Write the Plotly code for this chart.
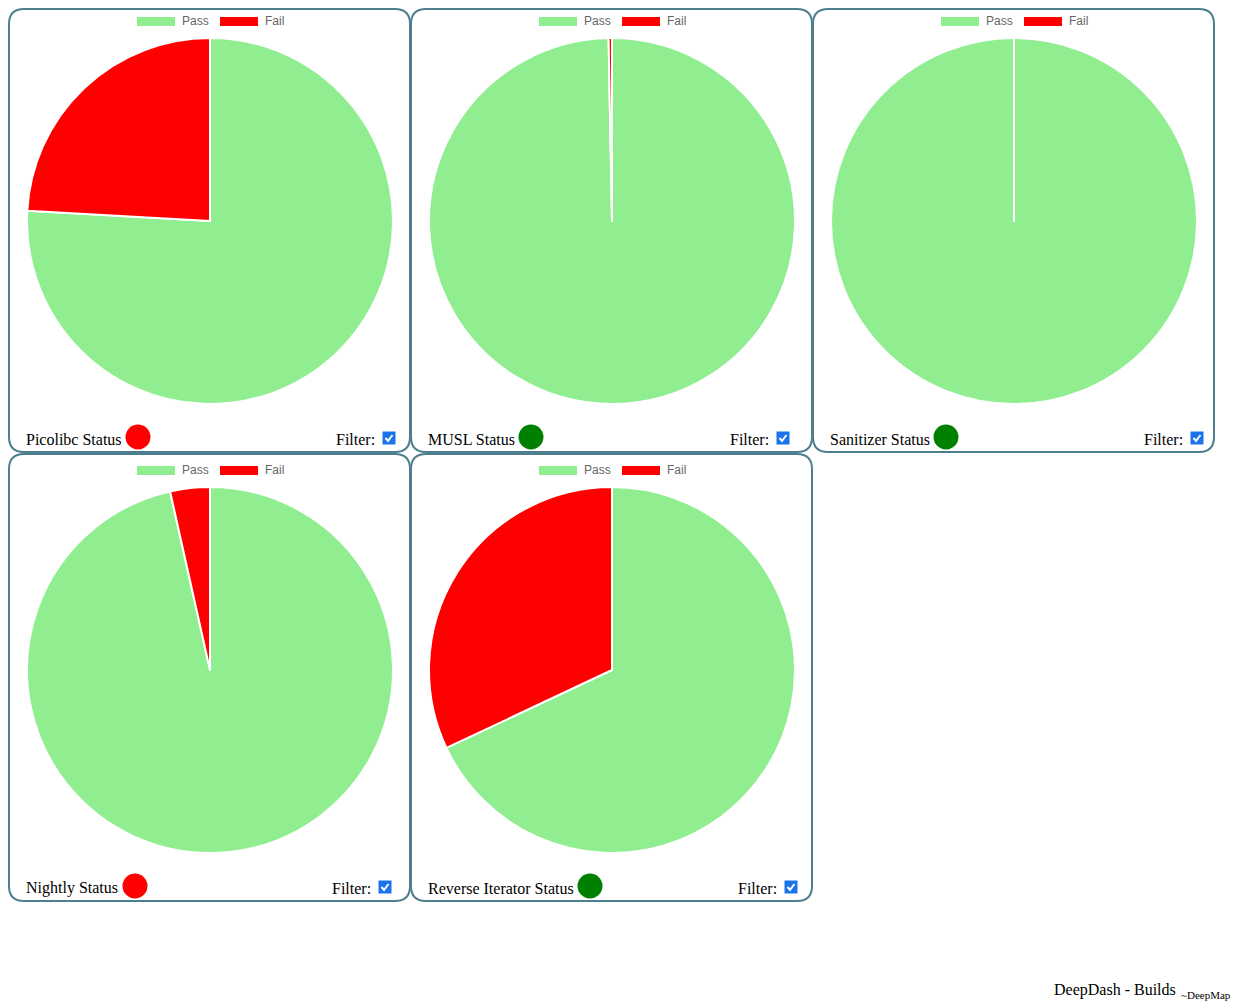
import plotly.graph_objects as go

W, H = 1232, 997
names = ["Picolibc Status", "MUSL Status", "Sanitizer Status", "Nightly Status", "Reverse Iterator Status"]
pass_vals = [75.9, 99.7, 100, 96.5, 68]
fail_vals = [24.1, 0.3, 0, 3.5, 32]
status = ["red", "green", "green", "red", "green"]
labels = ["Pass", "Fail"]
colors = ["#90ee90", "#ff0000"]
dot_off = [112, 103, 116, 109, 162]
chk_x = [389, 783, 1197, 385, 791]

fig = go.Figure()
shapes, ann = [], []
BC = "#4e7f8f"
def px(x): return (x - 8) / W
def py(y): return 1 - (y - 8) / H

for i, n in enumerate(names):
    r, c = divmod(i, 3)
    x0 = 9 + 402 * c; x1 = x0 + 401
    y0 = 5 + 449 * r; y1 = y0 + 447
    yt = max(y0, 9)
    cx = x0 + 201; cy = y0 + 216; R = 183
    fig.add_trace(go.Pie(labels=labels, values=[pass_vals[i], fail_vals[i]], sort=False,
                         direction="clockwise", rotation=0, textinfo="none", hoverinfo="label+value",
                         marker=dict(colors=colors, line=dict(color="white", width=2)),
                         showlegend=False,
                         domain=dict(x=[px(cx - R), px(cx + R)], y=[py(cy + R), py(cy - R)])))
    k = 15
    pts = [("M", x0, yt + k), ("Q", x0, yt, x0 + k, yt), ("L", x1 - k, yt), ("Q", x1, yt, x1, yt + k),
           ("L", x1, y1 - k), ("Q", x1, y1, x1 - k, y1), ("L", x0 + k, y1), ("Q", x0, y1, x0, y1 - k), ("Z",)]
    path = []
    for p in pts:
        s = p[0]
        for j in range(1, len(p), 2):
            s += f" {px(p[j])},{py(p[j+1])}"
        path.append(s)
    shapes.append(dict(type="path", xref="paper", yref="paper", line=dict(color=BC, width=2),
                       path=" ".join(path)))
    ly = y0 + 16
    for j, (lab, col) in enumerate(zip(labels, colors)):
        lx = x0 + 128 + 83 * j
        shapes.append(dict(type="rect", xref="paper", yref="paper", x0=px(lx), x1=px(lx + 38),
                           y0=py(ly + 5), y1=py(ly - 4), fillcolor=col, line=dict(width=0)))
        ann.append(dict(x=px(lx + 43), y=py(ly), xref="paper", yref="paper", text=lab, showarrow=False,
                        xanchor="left", yanchor="middle", font=dict(family="Liberation Sans", size=12, color="#666")))
    sy = y0 + 434
    ann.append(dict(x=px(x0 + 15), y=py(sy), xref="paper", yref="paper", text=n, showarrow=False,
                    xanchor="left", yanchor="middle", font=dict(family="Liberation Serif", size=16, color="black")))
    ccx = 26 + 402 * c + dot_off[i]
    shapes.append(dict(type="circle", xref="paper", yref="paper", x0=px(ccx - 12.5), x1=px(ccx + 12.5),
                       y0=py(sy - 2 + 12.5), y1=py(sy - 2 - 12.5), fillcolor=status[i], line=dict(width=0)))
    fx = chk_x[i]
    ann.append(dict(x=px(fx - 12), y=py(sy), xref="paper", yref="paper", text="Filter:", showarrow=False,
                    xanchor="right", yanchor="middle", font=dict(family="Liberation Serif", size=16, color="black")))
    shapes.append(dict(type="rect", xref="paper", yref="paper", x0=px(fx - 6.5), x1=px(fx + 6.5),
                       y0=py(sy + 5.5), y1=py(sy - 7.5), fillcolor="#1a73e8", line=dict(width=0)))
    shapes.append(dict(type="path", xref="paper", yref="paper", line=dict(color="white", width=2),
                       path=f"M {px(fx-3.5)},{py(sy-1)} L {px(fx-1)},{py(sy+2)} L {px(fx+3.5)},{py(sy-4)}"))

ann.append(dict(x=px(1178), y=py(990), xref="paper", yref="paper", text="DeepDash - Builds", showarrow=False,
                xanchor="right", yanchor="middle", font=dict(family="Liberation Serif", size=16, color="black")))
ann.append(dict(x=px(1179), y=py(995), xref="paper", yref="paper", text="~DeepMap", showarrow=False,
                xanchor="left", yanchor="middle", font=dict(family="Liberation Serif", size=11, color="black")))

fig.update_layout(width=W, height=H, margin=dict(l=0, r=0, t=0, b=0), paper_bgcolor="white",
                  plot_bgcolor="white", shapes=shapes, annotations=ann)
fig.write_html("out.html")
